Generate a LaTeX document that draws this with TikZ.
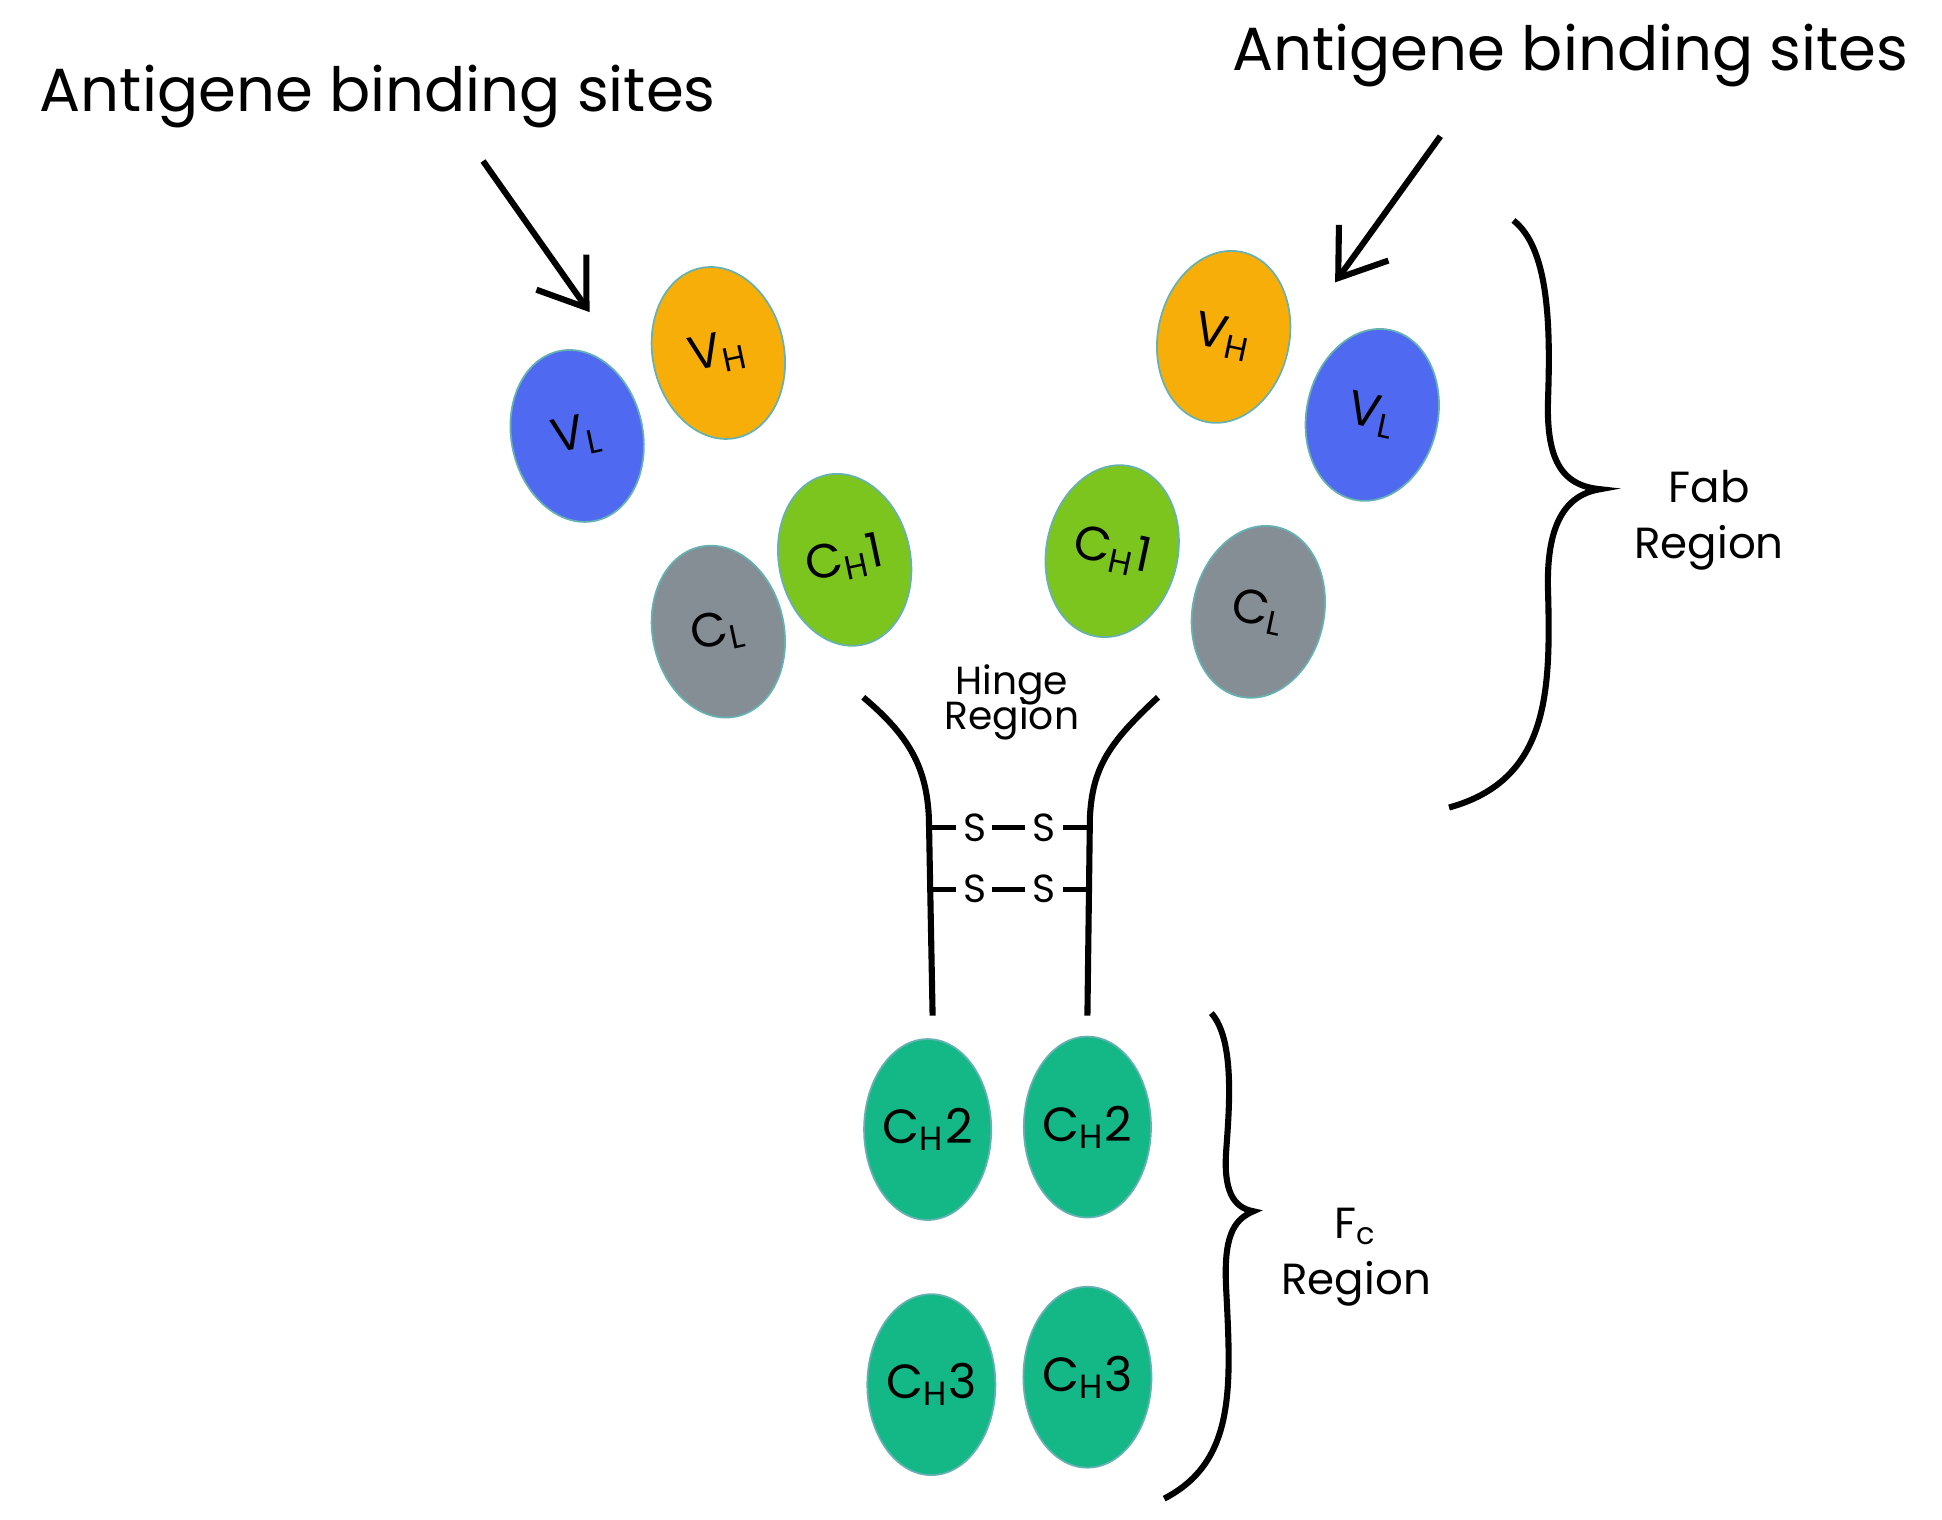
\documentclass[tikz,border=0pt]{standalone}
\usepackage{fontspec}
\setmainfont{Poppins}
\usetikzlibrary{shapes.geometric,arrows.meta}
\begin{document}
\begin{tikzpicture}[x=0.01cm,y=-0.01cm,
 dom/.style={ellipse,draw=teal!60,line width=0.4pt,minimum width=1.06cm,minimum height=1.4cm,inner sep=0pt,font=\fontsize{11}{11}\selectfont},
 ln/.style={line width=1.4pt,black},
 lab/.style={font=\fontsize{10}{13}\selectfont,align=center}]
\useasboundingbox (0,0) rectangle (1568,1227);
\definecolor{cO}{HTML}{F8AE08}\definecolor{cB}{HTML}{4F6AF0}\definecolor{cG}{HTML}{7CC41E}
\definecolor{cY}{HTML}{858E95}\definecolor{cT}{HTML}{14B887}
% domains
\node[dom,fill=cB,rotate=12] (lvl) at (466,352) {V\textsubscript{L}};
\node[dom,fill=cO,rotate=12] (lvh) at (580,285) {V\textsubscript{H}};
\node[dom,fill=cG,rotate=12] (lch1) at (682,452) {C\textsubscript{H}1};
\node[dom,fill=cY,rotate=12] (lcl) at (580,510) {C\textsubscript{L}};
\node[dom,fill=cO,rotate=-12] (rvh) at (988,272) {V\textsubscript{H}};
\node[dom,fill=cB,rotate=-12] (rvl) at (1108,335) {V\textsubscript{L}};
\node[dom,fill=cG,rotate=-12] (rch1) at (898,445) {C\textsubscript{H}1};
\node[dom,fill=cY,rotate=-12] (rcl) at (1016,494) {C\textsubscript{L}};
\node[dom,fill=cT,minimum width=1.0cm,minimum height=1.46cm] (lch2) at (749,912) {C\textsubscript{H}2};
\node[dom,fill=cT,minimum width=1.0cm,minimum height=1.46cm] (rch2) at (878,910) {C\textsubscript{H}2};
\node[dom,fill=cT,minimum width=1.0cm,minimum height=1.46cm] (lch3) at (752,1118) {C\textsubscript{H}3};
\node[dom,fill=cT,minimum width=1.0cm,minimum height=1.46cm] (rch3) at (878,1112) {C\textsubscript{H}3};
% hinge
\draw[ln] (697,563) .. controls (735,595) and (748,620) .. (750,660) -- (753,820);
\draw[ln] (935,563) .. controls (895,600) and (882,620) .. (880,660) -- (878,820);
\foreach \y in {668,718}{
 \draw[ln,line width=1.1pt] (751,\y) -- (772,\y) (801,\y) -- (828,\y) (858,\y) -- (880,\y);
 \node[font=\fontsize{9}{9}\selectfont] at (787,\y) {S};
 \node[font=\fontsize{9}{9}\selectfont] at (843,\y) {S};}
\node[lab,font=\fontsize{9}{10}\selectfont] (hinge) at (817,567) {Hinge\\[-2pt]Region};
% titles & arrows
\node[font=\fontsize{14}{14}\selectfont] (t1) at (305,78) {Antigene binding sites};
\node[font=\fontsize{14}{14}\selectfont] (t2) at (1268,45) {Antigene binding sites};
\coordinate (a1s) at (390,130); \coordinate (a1e) at (476,252);
\coordinate (a2s) at (1163,110); \coordinate (a2e) at (1078,228);
\draw[ln,-{Straight Barb[length=10pt,width=14pt]}] (a1s) -- (a1e);
\draw[ln,-{Straight Barb[length=10pt,width=14pt]}] (a2s) -- (a2e);
% braces
\draw[ln] (1222,178) .. controls (1250,200) and (1252,260) .. (1250,320) .. controls (1248,370) and (1260,392) .. (1292,395)
 .. controls (1260,400) and (1248,430) .. (1250,480) .. controls (1252,560) and (1250,630) .. (1170,652);
\draw[ln] (978,818) .. controls (998,840) and (992,900) .. (990,930) .. controls (988,960) and (995,975) .. (1012,978)
 .. controls (995,985) and (988,1000) .. (990,1040) .. controls (994,1120) and (998,1180) .. (940,1210);
\node[lab] (fab) at (1380,420) {Fab\\Region};
\node[lab] (fc) at (1095,1015) {F\textsubscript{c}\\Region};
\end{tikzpicture}
\end{document}
